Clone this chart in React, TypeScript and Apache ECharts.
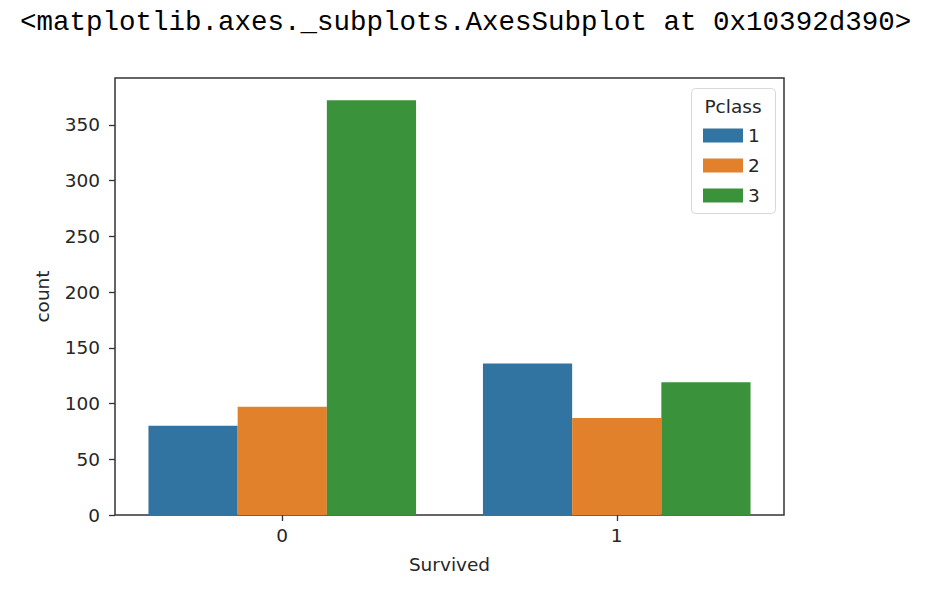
import React, { useEffect, useRef } from "react";
import * as echarts from "echarts";

const categories = ["0", "1"];
const classNames = ["1", "2", "3"];
const pclass1 = [80, 136];
const pclass2 = [97, 87];
const pclass3 = [372, 119];
const yTicks = [0, 50, 100, 150, 200, 250, 300, 350];
const colors = ["#3274a1", "#e1812c", "#3a923a"];

export default function App() {
  const ref = useRef<HTMLDivElement>(null);
  useEffect(() => {
    const chart = echarts.init(ref.current!, null, { renderer: "svg" });
    const seriesData = [pclass1, pclass2, pclass3];
    const font = "DejaVu Sans";
    const textColor = "#262626";
    chart.setOption({
      animation: false,
      color: colors,
      textStyle: { fontFamily: font },
      grid: {
        left: 115,
        right: 152,
        top: 78,
        bottom: 75,
        show: true,
        borderColor: "#333333",
        borderWidth: 1.5,
        backgroundColor: "transparent",
      },
      legend: {
        orient: "vertical",
        left: 698,
        top: 121,
        itemWidth: 40,
        itemHeight: 14,
        itemGap: 11,
        icon: "rect",
        data: classNames,
        textStyle: { fontSize: 18.5, color: textColor, fontFamily: font, padding: [0, 0, 0, 0] },
      },
      xAxis: {
        type: "category",
        data: categories,
        boundaryGap: true,
        name: "Survived",
        nameLocation: "middle",
        nameGap: 40,
        nameTextStyle: { fontSize: 18.5, color: textColor },
        axisLine: { show: false },
        axisTick: { show: true, alignWithLabel: true, length: 6, lineStyle: { color: "#333", width: 1.3 } },
        axisLabel: { fontSize: 18.5, color: textColor, margin: 11 },
        splitLine: { show: false },
      },
      yAxis: {
        type: "value",
        min: 0,
        max: 392,
        name: "count",
        nameLocation: "middle",
        nameGap: 63,
        nameTextStyle: { fontSize: 18.5, color: textColor },
        axisLine: { show: false },
        axisTick: { show: true, length: 6, customValues: yTicks, lineStyle: { color: "#333", width: 1.3 } },
        axisLabel: { fontSize: 18.5, color: textColor, margin: 15, customValues: yTicks },
        splitLine: { show: false },
      },
      series: seriesData.map((d, i) => ({
        type: "bar",
        name: classNames[i],
        data: d,
        barGap: "0%",
        barCategoryGap: "20%",
        itemStyle: { color: colors[i] },
      })),
      graphic: [
        {
          type: "text",
          left: 20,
          top: 8,
          style: {
            text: "<matplotlib.axes._subplots.AxesSubplot at 0x10392d390>",
            fontSize: 27.5,
            fontFamily: "Liberation Mono",
            fill: "#000",
          },
        },
        {
          type: "rect",
          shape: { x: 691.5, y: 88.5, width: 84, height: 125, r: 4 },
          style: { fill: "rgba(255,255,255,0.8)", stroke: "#d8d8d8", lineWidth: 1 },
          z: 0,
        },
        {
          type: "text",
          x: 733,
          y: 106,
          style: {
            text: "Pclass",
            fontSize: 18.5,
            fontFamily: font,
            fill: textColor,
            align: "center",
            verticalAlign: "middle",
          },
        },
      ],
    });
    return () => chart.dispose();
  }, []);
  return (
    <div
      ref={ref}
      style={{ position: "absolute", left: 0, top: 0, width: 936, height: 590, background: "#fff" }}
    />
  );
}
